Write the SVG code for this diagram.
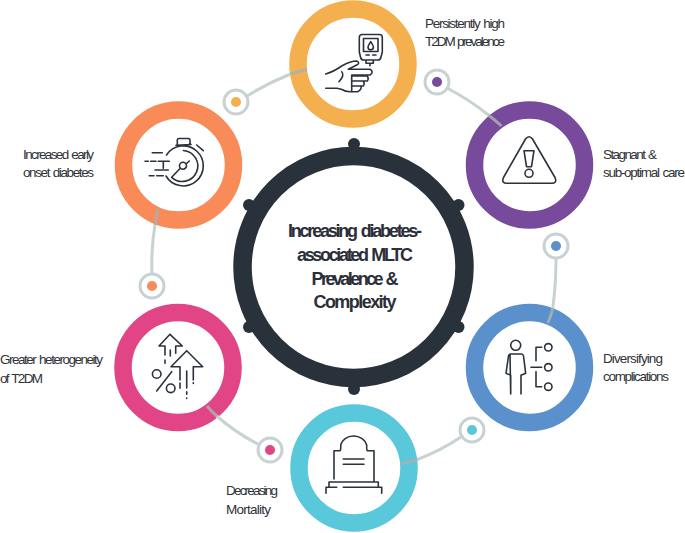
<svg xmlns="http://www.w3.org/2000/svg" width="685" height="533" viewBox="0 0 685 533">
<style>
.ring{fill:none;stroke-width:17.5}
.dotring{fill:#fff;stroke:#c9d2d3;stroke-width:3}
.conn{fill:none;stroke:#c9d2d3;stroke-width:3}
.over{fill:none;stroke:#a9b0b2;stroke-width:3;stroke-opacity:.85}
.ic{fill:none;stroke:#2b323c;stroke-width:1.6;stroke-linecap:round;stroke-linejoin:round}
.lab{font-family:"Liberation Sans",Arial,sans-serif;font-size:13.5px;fill:#2f3238;word-spacing:1.5px}
.ctr{font-family:"Liberation Sans",Arial,sans-serif;font-size:18px;font-weight:700;fill:#2b2f38;text-anchor:middle;word-spacing:2px}
</style>
<rect width="685" height="533" fill="#fff"/>
<g id="center">
<circle cx="353.5" cy="267" r="111" fill="none" stroke="#29313b" stroke-width="18.5"/>
<g fill="#29313b"><circle cx="354" cy="144" r="6"/><circle cx="249" cy="205" r="6"/><circle cx="458.500" cy="205" r="6"/><circle cx="249" cy="327" r="6"/><circle cx="458.500" cy="327" r="6"/><circle cx="354" cy="389" r="6"/></g>
<text class="ctr" x="355" y="237" textLength="134" lengthAdjust="spacing">Increasing diabetes-</text>
<text class="ctr" x="355" y="261" textLength="116" lengthAdjust="spacing">associated MLTC</text>
<text class="ctr" x="355" y="285" textLength="87" lengthAdjust="spacing">Prevalence &amp;</text>
<text class="ctr" x="355" y="308" textLength="83" lengthAdjust="spacing">Complexity</text>
</g>
<g id="node-top">
<circle class="ring" cx="353" cy="64" r="55" stroke="#f4b04f"/>
<path class="ic" d="M362 34.500H379.500Q382.300 34.500 382.300 37.500V52L381 57Q380.500 60 378 60H363.500Q361 60 360.500 57L359.300 52V37.500Q359.300 34.500 362 34.500ZM363.500 38.500H378V51.500H363.500ZM366 55H369.300M372.700 55H376M366 60V63.300H373.300V60M370 63.300V65.700M370.700 41.700C369 44.500 368 45.500 368 47A2.700 2.700 0 0 0 373.400 47C373.400 45.500 372.400 44.500 370.700 41.700Z"/>
<path class="ic" d="M325.700 74C331 72.500 336 70 341.700 66C347 63 352 61 356.700 61C359.300 62 359.300 64 356.700 65L348.300 69.300H370Q374.300 71.700 370 75H351.700V91.700M351.700 76H367.300Q369 78.500 367.300 81H351.700M363.300 81Q365 83.500 363.300 86H351.700M361 86Q362 89 358 91.700H350Q345 91.500 342 89.500Q339 88.500 336.700 88.300H325.700M341.700 71.700Q345 75 339 81.700"/>
</g>
<g id="node-stagnant">
<circle class="ring" cx="529.500" cy="165" r="55" stroke="#784a9b"/>
<path class="ic" d="M525.500 139L503.500 177.500Q501 183.300 507 183.300H551.500Q557.500 183.300 555 177.500L532.500 139Q529 134.500 525.500 139ZM524 150.700H534L531.500 166.700H526.500ZM533 173.300A4 4 0 1 1 525 173.300A4 4 0 1 1 533 173.300Z" stroke-width="1.800"/>
</g>
<g id="node-complications">
<circle class="ring" cx="529.500" cy="367.500" r="55" stroke="#5a91cd"/>
<path class="ic" d="M520.700 345.300A5 5 0 1 1 510.700 345.300A5 5 0 1 1 520.700 345.300ZM510 354H521.700Q523 354 523.500 356L525.700 373.300L521 375.300V394M510.700 394V375.300L506 373.300L508.500 356Q509 354 510 354ZM531 367.300H541.700M541.700 347.300H536V360.700M536 371.700V386.700H541.700M552 347.300A3.700 3.700 0 1 1 544.600 347.300A3.700 3.700 0 1 1 552 347.300ZM552 367.300A3.700 3.700 0 1 1 544.600 367.300A3.700 3.700 0 1 1 552 367.300ZM552 386.700A3.700 3.700 0 1 1 544.600 386.700A3.700 3.700 0 1 1 552 386.700Z"/>
</g>
<g id="node-mortality">
<circle class="ring" cx="354" cy="468" r="55" stroke="#58c8da"/>
<path class="ic" d="M334 479V450.700H340Q341 450 340.700 445C342 440 347 436 353.500 436C360 436 365.500 440 366.700 445Q366.500 450 367.300 450.700H374V481.700M343.300 459H364M343.300 464.300H364M329 487.300V482H378.300V487.300M326 493.300V487.300H336.700M343.300 487.300H381.700V493.300"/>
</g>
<g id="node-heterogeneity">
<circle class="ring" cx="178" cy="367.500" r="55" stroke="#e14586"/>
<path class="ic" d="M170 334.300L182.300 346H175.700V353.300M170 334.300L159 346H165V355M165 360V363.300M170.300 350V356M186.700 350.700L202.700 366.700H193.300V380M186.700 350.700L171 366.700H180V380M180 383V388.300M193.300 382.700V383.500M186.700 371V388M186.700 391.700V394.300M186.700 398V398.500M171.700 371.700L156.700 391M161 374A4.300 4.300 0 1 1 152.400 374A4.300 4.300 0 1 1 161 374ZM175 388.300A4.300 4.300 0 1 1 166.400 388.300A4.300 4.300 0 1 1 175 388.300Z"/>
</g>
<g id="node-early">
<circle class="ring" cx="178.500" cy="165" r="55" stroke="#f88b58"/>
<path class="ic" d="M166.500 155A20 20 0 1 1 166 176M177.300 145V140Q177.300 138.500 179 138.500H188.500Q190 138.500 190 140V145M176 145.300L191 144.500M196.700 145L203.300 150.700M152.300 152.700H162.300M145 161.300H148.300M150.700 161.300H156M158.300 161.300H169.300M163.300 161.300V168.300M155 170H168.300M149.300 175.700H154M156.700 175.700H163.300M183.300 150.500A15.500 15.500 0 1 1 171.700 177.300M186.500 165.700A3.500 3.500 0 1 1 179.500 165.700A3.500 3.500 0 1 1 186.500 165.700ZM180.500 168L171.700 177.300M189.300 161L186 164"/>
</g>
<g id="connectors">
<path class="conn" d="M247 96Q268 83 290.500 74"/>
<path class="over" d="M290.500 74Q298 71.500 307 69.500"/>
<path class="conn" d="M447 88Q470 100 488.300 115"/>
<path class="over" d="M488.300 115Q495 120 501.500 126"/>
<path class="conn" d="M556 258Q556 285 552.700 308.300"/>
<path class="over" d="M552.700 308.300Q551 316 548 323"/>
<path class="conn" d="M461 437Q440 451 417.700 459.300"/>
<path class="over" d="M417.700 459.300Q409 462 401 463.500"/>
<path class="conn" d="M258 444Q236 433 216.700 416"/>
<path class="over" d="M216.700 416Q211 411 207 406"/>
<path class="conn" d="M152 274Q151 248 155 225"/>
<path class="over" d="M155 225Q156 217 158 209"/>
<g id="dot-a"><circle class="dotring" cx="236" cy="102" r="12"/><circle cx="236" cy="102" r="5" fill="#f4b04f"/></g>
<g id="dot-b"><circle class="dotring" cx="437" cy="82" r="12"/><circle cx="437" cy="82" r="5" fill="#784a9b"/></g>
<g id="dot-c"><circle class="dotring" cx="556" cy="246" r="12"/><circle cx="556" cy="246" r="5" fill="#5a91cd"/></g>
<g id="dot-d"><circle class="dotring" cx="472" cy="430" r="12"/><circle cx="472" cy="430" r="5" fill="#58c8da"/></g>
<g id="dot-e"><circle class="dotring" cx="270" cy="450" r="12"/><circle cx="270" cy="450" r="5" fill="#e14586"/></g>
<g id="dot-f"><circle class="dotring" cx="152" cy="286" r="12"/><circle cx="152" cy="286" r="5" fill="#f88b58"/></g>
</g>
<g id="labels">
<text class="lab" x="425" y="28" textLength="80" lengthAdjust="spacing">Persistently high</text>
<text class="lab" x="425" y="46" textLength="80" lengthAdjust="spacing">T2DM prevalence</text>
<text class="lab" x="603" y="159" textLength="54" lengthAdjust="spacing">Stagnant &amp;</text>
<text class="lab" x="603" y="177" textLength="82" lengthAdjust="spacing">sub-optimal care</text>
<text class="lab" x="603" y="363" textLength="60" lengthAdjust="spacing">Diversifying</text>
<text class="lab" x="603" y="381" textLength="66" lengthAdjust="spacing">complications</text>
<text class="lab" x="226" y="495" textLength="52" lengthAdjust="spacing">Decreasing</text>
<text class="lab" x="226" y="514" textLength="45" lengthAdjust="spacing">Mortality</text>
<text class="lab" x="0" y="364" textLength="103" lengthAdjust="spacing">Greater heterogeneity</text>
<text class="lab" x="0" y="383" textLength="43" lengthAdjust="spacing">of T2DM</text>
<text class="lab" x="23" y="159" textLength="71" lengthAdjust="spacing">Increased early</text>
<text class="lab" x="23" y="177" textLength="71" lengthAdjust="spacing">onset diabetes</text>
</g>
</svg>
